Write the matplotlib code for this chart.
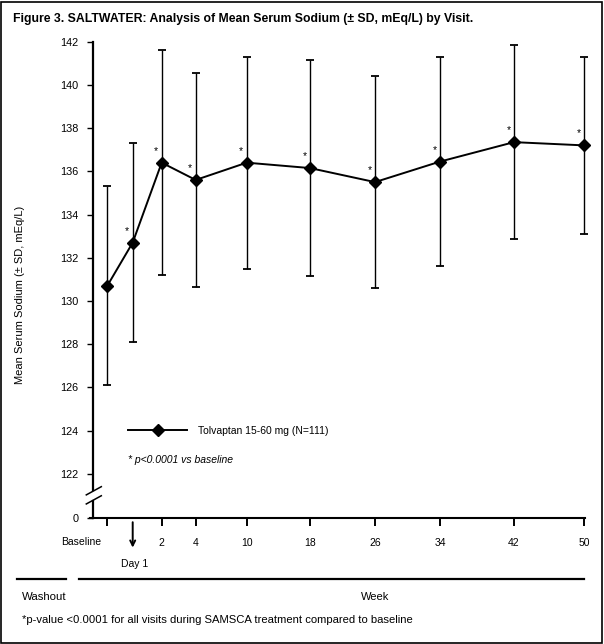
import matplotlib
matplotlib.use('Agg')
import matplotlib.pyplot as plt
from matplotlib.lines import Line2D
from matplotlib.patches import Rectangle

# data
visits = ['Baseline', 'Day 1', '2', '4', '10', '18', '26', '34', '42', '50']
mean_na = [130.7, 132.7, 136.4, 135.6, 136.4, 136.15, 135.5, 136.45, 137.35, 137.2]
sd_na = [4.6, 4.6, 5.2, 4.95, 4.9, 5.0, 4.9, 4.85, 4.5, 4.1]
signif = [False, True, True, True, True, True, True, True, True, True]
y_ticks = [122, 124, 126, 128, 130, 132, 134, 136, 138, 140, 142]

# layout: horizontal visit positions (uneven spacing as in the original)
x_pos = [14, 39.4, 68.4, 102.4, 153.4, 216.7, 281.7, 346.7, 420.7, 490.7]
y_floor = 119.95   # where the "0" of the broken axis sits

plt.rcParams['font.family'] = ['Liberation Sans', 'DejaVu Sans']
fs = 7.5

fig = plt.figure(figsize=(6.04, 6.44), dpi=100)
W, H = 604, 644
ax = fig.add_axes([93.3 / W, 1 - 518 / H, 491.7 / W, 476.3 / H])
renderer = fig.canvas.get_renderer()

# outer frame and title
fig.patches.append(Rectangle((0.002, 0.002), 0.995, 0.995, transform=fig.transFigure,
                             fill=False, ec='black', lw=1.2))
title = fig.text(13 / W, 1 - 19 / H,
                 'Figure 3. SALTWATER: Analysis of Mean Serum Sodium (\u00b1 SD, mEq/L) by Visit.',
                 fontweight='bold', va='center', ha='left', fontsize=9)
# squeeze the size so the title spans the same width as the original
tw = title.get_window_extent(renderer).width
title.set_fontsize(9 * 459 / tw)

# error bars then the mean line
ax.errorbar(x_pos, mean_na, yerr=sd_na, fmt='none', ecolor='black', elinewidth=1.0,
            capsize=2.6, capthick=1.3, clip_on=False, zorder=2)
ax.plot(x_pos, mean_na, color='black', lw=1.4, marker='D', ms=6, clip_on=False,
        label='Tolvaptan 15-60 mg (N=111)', zorder=3)
for x, m, s in zip(x_pos, mean_na, signif):
    if s:
        ax.annotate('*', xy=(x, m), xytext=(-4, 5), textcoords='offset points',
                    ha='center', va='bottom', fontsize=7.5)

ax.set_xlim(0, 491.7)
ax.set_ylim(y_floor, 142)

# spines / broken y axis
for side in ['top', 'right', 'left']:
    ax.spines[side].set_visible(False)
ax.spines['bottom'].set_linewidth(1.5)
ax.spines['bottom'].set_bounds(-3, 491.7)
ax.add_line(Line2D([0, 0], [121.25, 142], color='black', lw=1.6, clip_on=False))
ax.add_line(Line2D([0, 0], [y_floor, 120.72], color='black', lw=1.6, clip_on=False))
ax.add_line(Line2D([-7, 8], [121.02, 121.40], color='black', lw=1.1, clip_on=False))
ax.add_line(Line2D([-7, 8], [120.60, 120.98], color='black', lw=1.1, clip_on=False))

ax.set_yticks([y_floor] + y_ticks)
ax.set_yticklabels(['0'] + [str(t) for t in y_ticks])
ax.tick_params(axis='y', length=4.3, width=1.0, pad=6.5, labelsize=7.8)

xt = [p for p, v in zip(x_pos, visits) if v != 'Day 1']
xl = ['' if v == 'Baseline' else v for v in visits if v != 'Day 1']
ax.set_xticks(xt)
ax.set_xticklabels(xl)
ax.tick_params(axis='x', length=5.8, width=1.4, pad=8.5, labelsize=fs)

trans = ax.get_xaxis_transform()
ax.text(7.7, -0.0495, 'Baseline', transform=trans, ha='right', va='center', fontsize=fs)

# Day 1 arrow
ax.annotate('', xy=(x_pos[1], -0.068), xycoords=trans, xytext=(x_pos[1], -0.003), textcoords=trans,
            arrowprops=dict(arrowstyle='->', color='black', lw=1.4, mutation_scale=9))
ax.text(x_pos[1] + 2, -0.0966, 'Day 1', transform=trans, ha='center', va='center', fontsize=fs)

# period bars
ax.add_line(Line2D([-76.3, -27.3], [-0.128, -0.128], transform=trans, color='black', lw=1.6, clip_on=False))
ax.add_line(Line2D([-14.3, 490.7], [-0.128, -0.128], transform=trans, color='black', lw=1.6, clip_on=False))
ax.text(-71.3, -0.166, 'Washout', transform=trans, ha='left', va='center', fontsize=8.2)
ax.text(x_pos[6], -0.166, 'Week', transform=trans, ha='center', va='center', fontsize=8)
ax.text(-71.3, -0.215, '*p-value <0.0001 for all visits during SAMSCA treatment compared to baseline',
        transform=trans, ha='left', va='center', fontsize=8.1)

# legend and note
ax.legend(loc='center left', bbox_to_anchor=(0.0706, 0.1837), frameon=False, fontsize=fs,
          borderpad=0, borderaxespad=0, handlelength=5.7, handletextpad=1.0)
ax.text(0.0706, 0.1218, '* p<0.0001 vs baseline', transform=ax.transAxes, style='italic',
        ha='left', va='center', fontsize=fs)

fig.text(20 / W, 1 - 295 / H, 'Mean Serum Sodium (\u00b1 SD, mEq/L)', rotation=90,
         ha='center', va='center', fontsize=8)

fig.savefig('out.png', dpi=100)
